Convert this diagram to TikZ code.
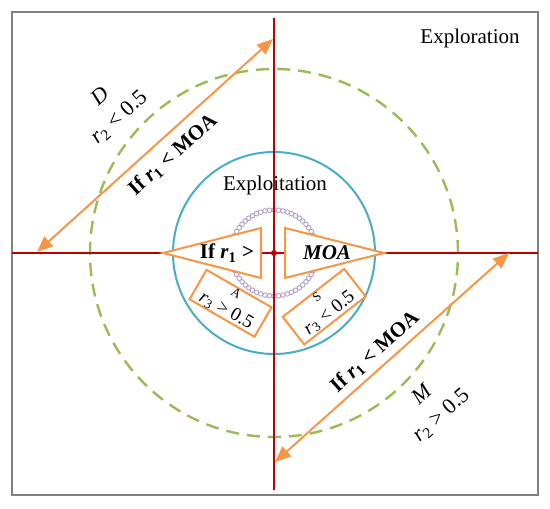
\documentclass[tikz,border=0pt]{standalone}
\usepackage{fontspec}
\setmainfont{Liberation Serif}
\usetikzlibrary{arrows.meta}
\definecolor{axisred}{RGB}{192,0,0}
\definecolor{moaorange}{RGB}{247,150,70}
\definecolor{innerblue}{RGB}{75,172,198}
\definecolor{outergreen}{RGB}{155,187,89}
\definecolor{ringpurple}{RGB}{178,161,199}
\definecolor{framegray}{RGB}{128,128,128}
\tikzset{axis line/.style={axisred, line width=1pt},
         moa arrow/.style={moaorange, line width=1pt, {Triangle[length=8pt,width=6.5pt]}-{Triangle[length=8pt,width=6.5pt]}},
         moa box/.style={draw=moaorange, line width=1pt, fill=white, align=center, inner sep=0pt},
         big label/.style={font=\fontsize{10.5}{12}\selectfont},
         slope label/.style={font=\fontsize{11}{12}\selectfont, align=center, rotate=42}}
\begin{document}
\begin{tikzpicture}[x=0.5pt, y=0.5pt] % one unit is one pixel of the reference
  \useasboundingbox (-274,-255) rectangle (276,253);
  \draw[framegray, line width=0.75pt] (-262,-242) rectangle (264,241);
  % the two search regions
  \draw[outergreen, line width=1.2pt, dash pattern=on 6.5pt off 4pt] (0,0) circle (184);
  \draw[innerblue, line width=1pt] (0,0) circle (101);
  \foreach \a in {0,6,...,354}
    \draw[ringpurple, line width=0.45pt] (\a:43) circle (2.3);
  % axes
  \coordinate (top) at (0,235);
  \coordinate (bottom) at (0,-237);
  \coordinate (left) at (-262,0);
  \coordinate (right) at (264,0);
  \draw[axis line] (top) -- (bottom);
  \draw[axis line] (left) -- (right);
  % the two triangles
  \coordinate (lTip) at (-111,0);
  \coordinate (rTip) at (110,0);
  \draw[moaorange, line width=1pt, fill=white] (lTip) -- (-13,25) -- (-13,-25) -- cycle;
  \draw[moaorange, line width=1pt, fill=white] (rTip) -- (11,25) -- (11,-25) -- cycle;
  \node[big label] (ifr) at (-47,0) {\textbf{If \textit{r}\textsubscript{1} >}};
  \node[big label] (moa) at (53,0) {\textbf{\textit{MOA}}};
  % A and S boxes
  \node[moa box, rotate=-30, minimum width=37.5pt, minimum height=17pt] (A) at (-43.5,-50.3)
       {{\fontsize{6.5}{6}\selectfont A}\\[-1.5pt]{\fontsize{9.5}{9}\selectfont\textit{r}\textsubscript{3} > 0.5}};
  \node[moa box, rotate=38, minimum width=39pt, minimum height=17.5pt] (S) at (50.2,-53.7)
       {{\fontsize{6.5}{6}\selectfont S}\\[-1.5pt]{\fontsize{9.5}{9}\selectfont\textit{r}\textsubscript{3} < 0.5}};
  \fill[axisred] (0,0) circle (3);
  % D and M moves
  \coordinate (dTail) at (-237,1);
  \coordinate (dHead) at (-1,214);
  \coordinate (mTail) at (235,0);
  \coordinate (mHead) at (1,-209);
  \draw[moa arrow] (dTail) -- (dHead);
  \draw[moa arrow] (mTail) -- (mHead);
  \node[big label, rotate=42] (dIf) at (-101,98) {\textbf{If \textit{r}\textsubscript{1} < MOA}};
  \node[big label, rotate=42] (mIf) at (101,-99) {\textbf{If \textit{r}\textsubscript{1} < MOA}};
  \node[slope label] (D) at (-164,146) {\textit{D}\\[2pt]\textit{r}\textsubscript{2} < 0.5};
  \node[slope label] (M) at (158,-152) {\textit{M}\\[2pt]\textit{r}\textsubscript{2} > 0.5};
  \node[big label] (explore) at (196,215) {Exploration};
  \node[big label] (exploit) at (1,68) {Exploitation};
\end{tikzpicture}
\end{document}
